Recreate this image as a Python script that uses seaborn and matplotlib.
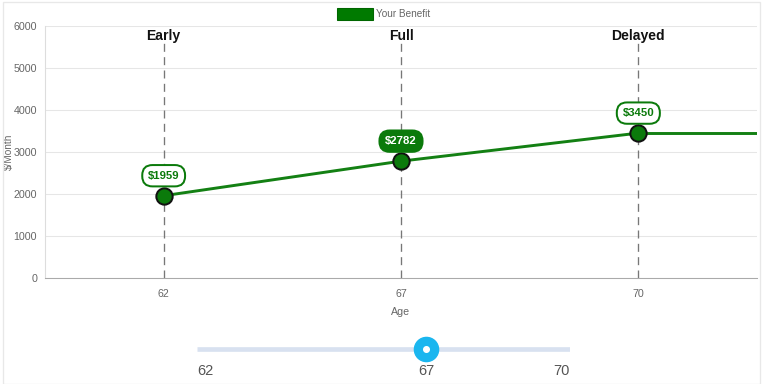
import matplotlib
matplotlib.use("Agg")
import matplotlib.pyplot as plt
import seaborn as sns
import pandas as pd
from matplotlib.patches import Rectangle

ages = ["62", "67", "70"]
benefits = [1959, 2782, 3450]
phases = ["Early", "Full", "Delayed"]
selected = "67"
y_ticks = [0, 1000, 2000, 3000, 4000, 5000, 6000]
slider_min, slider_max, slider_value = 62, 70, 67

GREEN = "#0b7a0b"
LINE_GREEN = "#138013"
GRAY = "#666666"

sns.set_theme(style="white")
plt.rcParams["font.family"] = ["Liberation Sans", "DejaVu Sans"]

df = pd.DataFrame({"pos": range(len(ages)), "age": ages, "benefit": benefits})

fig = plt.figure(figsize=(8, 4), dpi=96)
W, H = 768, 384
ax = fig.add_axes([45 / W, 106 / H, (757 - 45) / W, (278 - 26) / H])

ax.set_xlim(-0.5, len(ages) - 0.5)
ax.set_ylim(0, 6000)
ax.set_yticks(y_ticks)
ax.yaxis.grid(True, color="#e6e6e6", linewidth=0.8)
ax.set_axisbelow(True)
for s in ["top", "right"]:
    ax.spines[s].set_visible(False)
ax.spines["left"].set_color("#dddddd")
ax.spines["bottom"].set_color("#aaaaaa")
ax.spines["left"].set_linewidth(0.8)
ax.spines["bottom"].set_linewidth(0.8)

# dashed verticals
for i in df["pos"]:
    ax.axvline(i, ymin=0, ymax=0.95, color="#777777", linestyle=(0, (6, 4)), linewidth=1, zorder=1)

sns.lineplot(data=df, x="pos", y="benefit", ax=ax, color=LINE_GREEN, linewidth=2.2, zorder=3)
ax.hlines(benefits[-1], df["pos"].iloc[-1], len(ages) - 0.5, color=LINE_GREEN, linewidth=2.2, zorder=3)
sns.scatterplot(data=df, x="pos", y="benefit", ax=ax, s=150, color=GREEN, edgecolor="#111111",
                linewidth=1.5, zorder=5, legend=False)

for i, (a, b, p) in enumerate(zip(ages, benefits, phases)):
    ax.text(i, 5760, p, ha="center", va="center", fontsize=10.5, fontweight="bold", color="#111111", zorder=6)
    if a == selected:
        bbox = dict(boxstyle="round,pad=0.5,rounding_size=0.9", fc=GREEN, ec=GREEN, lw=1.5)
        tc = "white"
    else:
        bbox = dict(boxstyle="round,pad=0.5,rounding_size=0.9", fc="white", ec=GREEN, lw=1.5)
        tc = GREEN
    ax.annotate(f"${b}", (i, b), xytext=(0, 15), textcoords="offset points", ha="center", va="center",
                fontsize=8.5, fontweight="bold", color=tc, bbox=bbox, zorder=6)

ax.set_xticks(list(df["pos"]))
ax.set_xticklabels(ages)
ax.tick_params(axis="both", labelsize=8, colors=GRAY, length=4, width=0.8)
ax.tick_params(axis="x", length=0, pad=8)
ax.tick_params(axis="y", color="#cccccc", pad=2)
ax.set_xlabel("Age", fontsize=8, color=GRAY, labelpad=6)
ax.set_ylabel("$/Month", fontsize=7.5, color=GRAY)
ax.yaxis.set_label_coords(-0.044, 0.5)

# legend
fig.patches.append(Rectangle((337 / W, 1 - 20 / H), 36 / W, 12 / H, transform=fig.transFigure,
                             fc="#007a00", ec="#006600", lw=0.8))
fig.text(376 / W, 1 - 14 / H, "Your Benefit", fontsize=7.5, color=GRAY, va="center", ha="left")

# slider
sax = fig.add_axes([197 / W, 0, (570 - 197) / W, 60 / H])
sax.set_xlim(slider_min, slider_max)
sax.set_ylim(0, 60)
sax.axis("off")
sax.plot([slider_min, slider_max], [35, 35], color="#d8e1f0", linewidth=3.5, solid_capstyle="butt")
sax.scatter([slider_value - 0.08], [35], s=330, color="#1ab6ef", zorder=3)
sax.scatter([slider_value - 0.08], [35], s=18, color="white", zorder=4)
sax.text(slider_min, 13, str(slider_min), ha="left", va="center", fontsize=11, color="#555555")
sax.text(slider_value - 0.08, 13, str(slider_value), ha="center", va="center", fontsize=11, color="#555555")
sax.text(slider_max, 13, str(slider_max), ha="right", va="center", fontsize=11, color="#555555")

# border
fig.patches.append(Rectangle((3 / W, 0), 757 / W, 1 - 2 / H, transform=fig.transFigure,
                             fill=False, ec="#e8e8e8", lw=1))

fig.savefig("out.png", dpi=96)
